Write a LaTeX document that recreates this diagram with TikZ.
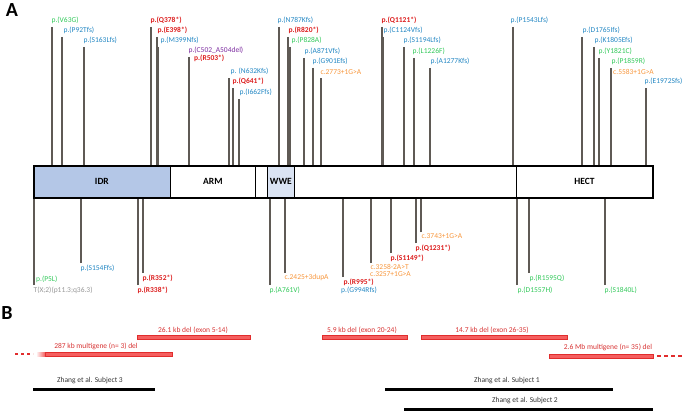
\documentclass[tikz,border=0pt]{standalone}
\usepackage{fontspec}
\setmainfont{Carlito}
\usepackage{xcolor}
\usepackage{tikz}
\definecolor{mgreen}{RGB}{50,200,90}
\definecolor{mblue}{RGB}{35,135,195}
\definecolor{mred}{RGB}{220,30,30}
\definecolor{mpurple}{RGB}{125,45,160}
\definecolor{morange}{RGB}{247,150,60}
\definecolor{mgray}{RGB}{150,150,150}
\definecolor{stemgray}{RGB}{95,90,85}
\definecolor{idrblue}{RGB}{180,199,231}
\definecolor{wweblue}{RGB}{218,227,243}
\definecolor{delred}{RGB}{225,45,45}
\definecolor{delfill}{RGB}{245,95,95}
\definecolor{deltext}{RGB}{215,50,50}

\begin{document}
\begin{tikzpicture}[x=1pt,y=-1pt]
	\tikzstyle{every node}+=[inner sep=0pt, font=\fontsize{7.5}{9}\selectfont]
	\tikzstyle{stem}=[draw=stemgray, line width=1.2pt]
	\tikzstyle{up}=[anchor=south west, yshift=3pt]
	\tikzstyle{dn}=[anchor=north west, yshift=-1pt]
	\tikzstyle{side}=[anchor=west]
	\tikzstyle{stop}=[text=mred, font=\fontsize{7.5}{9}\selectfont\bfseries]
	\tikzstyle{dom}=[draw, line width=0.8pt, anchor=north west, minimum height=32pt, font=\fontsize{9.5}{10}\selectfont\bfseries]
	\tikzstyle{del}=[draw=delred, fill=delfill, line width=0.5pt]
	\tikzstyle{deltxt}=[text=deltext, font=\fontsize{7.5}{9}\selectfont]
	\tikzstyle{subj}=[line width=3pt, black]
	\tikzstyle{subjtxt}=[text=black!80, font=\fontsize{7.5}{9}\selectfont]
	\useasboundingbox (0,0) rectangle (685,412);
	% panel letters
	\node[font=\fontsize{20}{20}\selectfont\bfseries] (pA) at (12,10) {A};
	\node[font=\fontsize{20}{20}\selectfont\bfseries] (pB) at (7,313) {B};
	% protein bar
	\node[dom, fill=idrblue, minimum width=137pt] (idr) at (33,165) {IDR};
	\node[dom, minimum width=85pt] (arm) at (170,165) {ARM};
	\node[dom, minimum width=12pt] (gap) at (255,165) {};
	\node[dom, fill=wweblue, minimum width=27pt] (wwe) at (267,165) {WWE};
	\node[dom, minimum width=222pt] (mid) at (294,165) {};
	\node[dom, minimum width=136pt] (hect) at (516,165) {HECT};
	\node[draw, line width=1.8pt, anchor=north west, minimum width=619pt, minimum height=32pt] (bar) at (33,165) {};
	% variants above the bar
	\draw[stem] (52,27) node[up,xshift=-1pt,text=mgreen] (V63G) {p.(V63G)} -- (52,27 |- bar.north);
	\draw[stem] (62,37) node[up,xshift=1pt,text=mblue] (P92Tfs) {p.(P92Tfs)} -- (62,37 |- bar.north);
	\draw[stem] (84,47) node[up,xshift=-1pt,text=mblue] (S163Lfs) {p.(S163Lfs)} -- (84,47 |- bar.north);
	\draw[stem] (151,27) node[up,xshift=-1pt,stop] (Q378) {p.(Q378*)} -- (151,27 |- bar.north);
	\draw[stem] (157,37) node[up,stop] (E398) {p.(E398*)} -- (157,37 |- bar.north);
	\draw[stem] (158,47) node[up,xshift=2pt,text=mblue] (M399Nfs) {p.(M399Nfs)} -- (158,47 |- bar.north);
	\draw[stem] (189,57) node[up,xshift=-1pt,text=mpurple] (C502del) {p.(C502\_A504del)} -- (189,57 |- bar.north);
	\node[side,stop] (R503) at (194,58) {p.(R503*)};
	\draw[stem] (229,78) node[up,xshift=1pt,text=mblue] (N632Kfs) {p. (N632Kfs)} -- (229,78 |- bar.north);
	\draw[stem] (233,88) node[up,xshift=-1pt,stop] (Q641) {p.(Q641*)} -- (233,88 |- bar.north);
	\draw[stem] (239,99) node[up,text=mblue] (I662Ffs) {p.(I662Ffs)} -- (239,99 |- bar.north);
	\draw[stem] (279,27) node[up,xshift=-2pt,text=mblue] (N787Kfs) {p.(N787Kfs)} -- (279,27 |- bar.north);
	\draw[stem] (288,37) node[up,stop] (R820) {p.(R820*)} -- (288,37 |- bar.north);
	\draw[stem] (290,47) node[up,xshift=1pt,text=mgreen] (P828A) {p.(P828A)} -- (290,47 |- bar.north);
	\draw[stem] (304,58) node[up,text=mblue] (A871Vfs) {p.(A871Vfs)} -- (304,58 |- bar.north);
	\draw[stem] (313,68) node[up,xshift=-1pt,text=mblue] (G901Efs) {p.(G901Efs)} -- (313,68 |- bar.north);
	\draw[stem] (321,78) node[up,xshift=-1pt,text=morange] (c2773) {c.2773+1G>A} -- (321,78 |- bar.north);
	\draw[stem] (382,27) node[up,xshift=-1pt,stop] (Q1121) {p.(Q1121*)} -- (382,27 |- bar.north);
	\draw[stem] (383,37) node[up,text=mblue] (C1124Vfs) {p.(C1124Vfs)} -- (383,37 |- bar.north);
	\draw[stem] (404,47) node[up,xshift=-1pt,text=mblue] (S1194Lfs) {p.(S1194Lfs)} -- (404,47 |- bar.north);
	\draw[stem] (414,58) node[up,xshift=-2pt,text=mgreen] (L1226F) {p.(L1226F)} -- (414,58 |- bar.north);
	\draw[stem] (430,68) node[up,text=mblue] (A1277Kfs) {p.(A1277Kfs)} -- (430,68 |- bar.north);
	\draw[stem] (513,27) node[up,xshift=-3pt,text=mblue] (P1543Lfs) {p.(P1543Lfs)} -- (513,27 |- bar.north);
	\draw[stem] (582,37) node[up,text=mblue] (D1765Ifs) {p.(D1765Ifs)} -- (582,37 |- bar.north);
	\draw[stem] (594,47) node[up,text=mblue] (K1805Efs) {p.(K1805Efs)} -- (594,47 |- bar.north);
	\draw[stem] (599,58) node[up,xshift=-1pt,text=mgreen] (Y1821C) {p.(Y1821C)} -- (599,58 |- bar.north);
	\draw[stem] (611,68) node[up,text=mgreen] (P1859R) {p.(P1859R)} -- (611,68 |- bar.north);
	\node[side,text=morange] (c5583) at (613,72) {c.5583+1G>A};
	\draw[stem] (646,88) node[up,xshift=-2pt,text=mblue] (E1972Sfs) {p.(E1972Sfs)} -- (646,88 |- bar.north);
	% variants below the bar
	\draw[stem] (34,285) node[dn,xshift=-1pt,text=mgray] (tX2) {T(X;2)(p11.3;q36.3)} -- (34,285 |- bar.south);
	\node[side,text=mgreen] (P5L) at (36,279) {p.(P5L)};
	\draw[stem] (81,263) node[dn,xshift=-1pt,text=mblue] (S154Ffs) {p.(S154Ffs)} -- (81,263 |- bar.south);
	\draw[stem] (143,273) node[dn,xshift=-1pt,stop] (R352) {p.(R352*)} -- (143,273 |- bar.south);
	\draw[stem] (138,285) node[dn,xshift=-1pt,stop] (R338) {p.(R338*)} -- (138,285 |- bar.south);
	\draw[stem] (270,285) node[dn,xshift=-1pt,text=mgreen] (A761V) {p.(A761V)} -- (270,285 |- bar.south);
	\draw[stem] (285,273) node[dn,xshift=-1pt,text=morange] (c2425) {c.2425+3dupA} -- (285,273 |- bar.south);
	\draw[stem] (343,277) node[dn,stop] (R995) {p.(R995*)} -- (343,277 |- bar.south);
	\node[dn,text=mblue] (G994Rfs) at (341,286) {p.(G994Rfs)};
	\draw[stem] (371,263) node[dn,xshift=-1pt,text=morange] (c3258) {c.3258-2A>T} -- (371,263 |- bar.south);
	\node[dn,text=morange] (c3257) at (370,270.5) {c.3257+1G>A};
	\draw[stem] (391,253) node[dn,xshift=-1pt,stop] (S1149) {p.(S1149*)} -- (391,253 |- bar.south);
	\draw[stem] (416,243) node[dn,xshift=-1pt,stop] (Q1231) {p.(Q1231*)} -- (416,243 |- bar.south);
	\draw[stem] (421,232) node[dn,text=morange] (c3743) {c.3743+1G>A} -- (421,232 |- bar.south);
	\draw[stem] (517,285) node[dn,text=mgreen] (D1557H) {p.(D1557H)} -- (517,285 |- bar.south);
	\draw[stem] (529,273) node[dn,text=mgreen] (R1595Q) {p.(R1595Q)} -- (529,273 |- bar.south);
	\draw[stem] (605,285) node[dn,xshift=-1pt,text=mgreen] (S1840L) {p.(S1840L)} -- (605,285 |- bar.south);
	% deletions
	\draw[del] (137,335) rectangle (250,339);
	\node[deltxt] (del261) at (193,330) {26.1 kb del (exon 5-14)};
	\draw[del] (322,335) rectangle (407,339);
	\node[deltxt] (del59) at (362,330) {5.9 kb del (exon 20-24)};
	\draw[del] (421,335) rectangle (567,339);
	\node[deltxt] (del147) at (492,330) {14.7 kb del (exon 26-35)};
	\draw[del] (45,352) rectangle (172,356);
	\shade[left color=white, right color=delfill] (36,352) rectangle (45,356);
	\draw[delred, line width=2pt, dash pattern=on 3pt off 3pt] (15,354) -- (33,354);
	\node[deltxt] (del287) at (96,346) {287 kb multigene (n= 3) del};
	\draw[del] (549,354) rectangle (653,358);
	\draw[delred, line width=2pt, dash pattern=on 4pt off 3pt] (657,356) -- (685,356);
	\node[deltxt] (del26) at (608,347) {2.6 Mb multigene (n= 35) del};
	% Zhang et al. subjects
	\draw[subj] (33,389) -- (155,389);
	\node[subjtxt] (subj3) at (90,381) {Zhang et al. Subject 3};
	\draw[subj] (385,389) -- (613,389);
	\node[subjtxt] (subj1) at (507,381) {Zhang et al. Subject 1};
	\draw[subj] (404,409) -- (653,409);
	\node[subjtxt] (subj2) at (525,401) {Zhang et al. Subject 2};
\end{tikzpicture}
\end{document}
